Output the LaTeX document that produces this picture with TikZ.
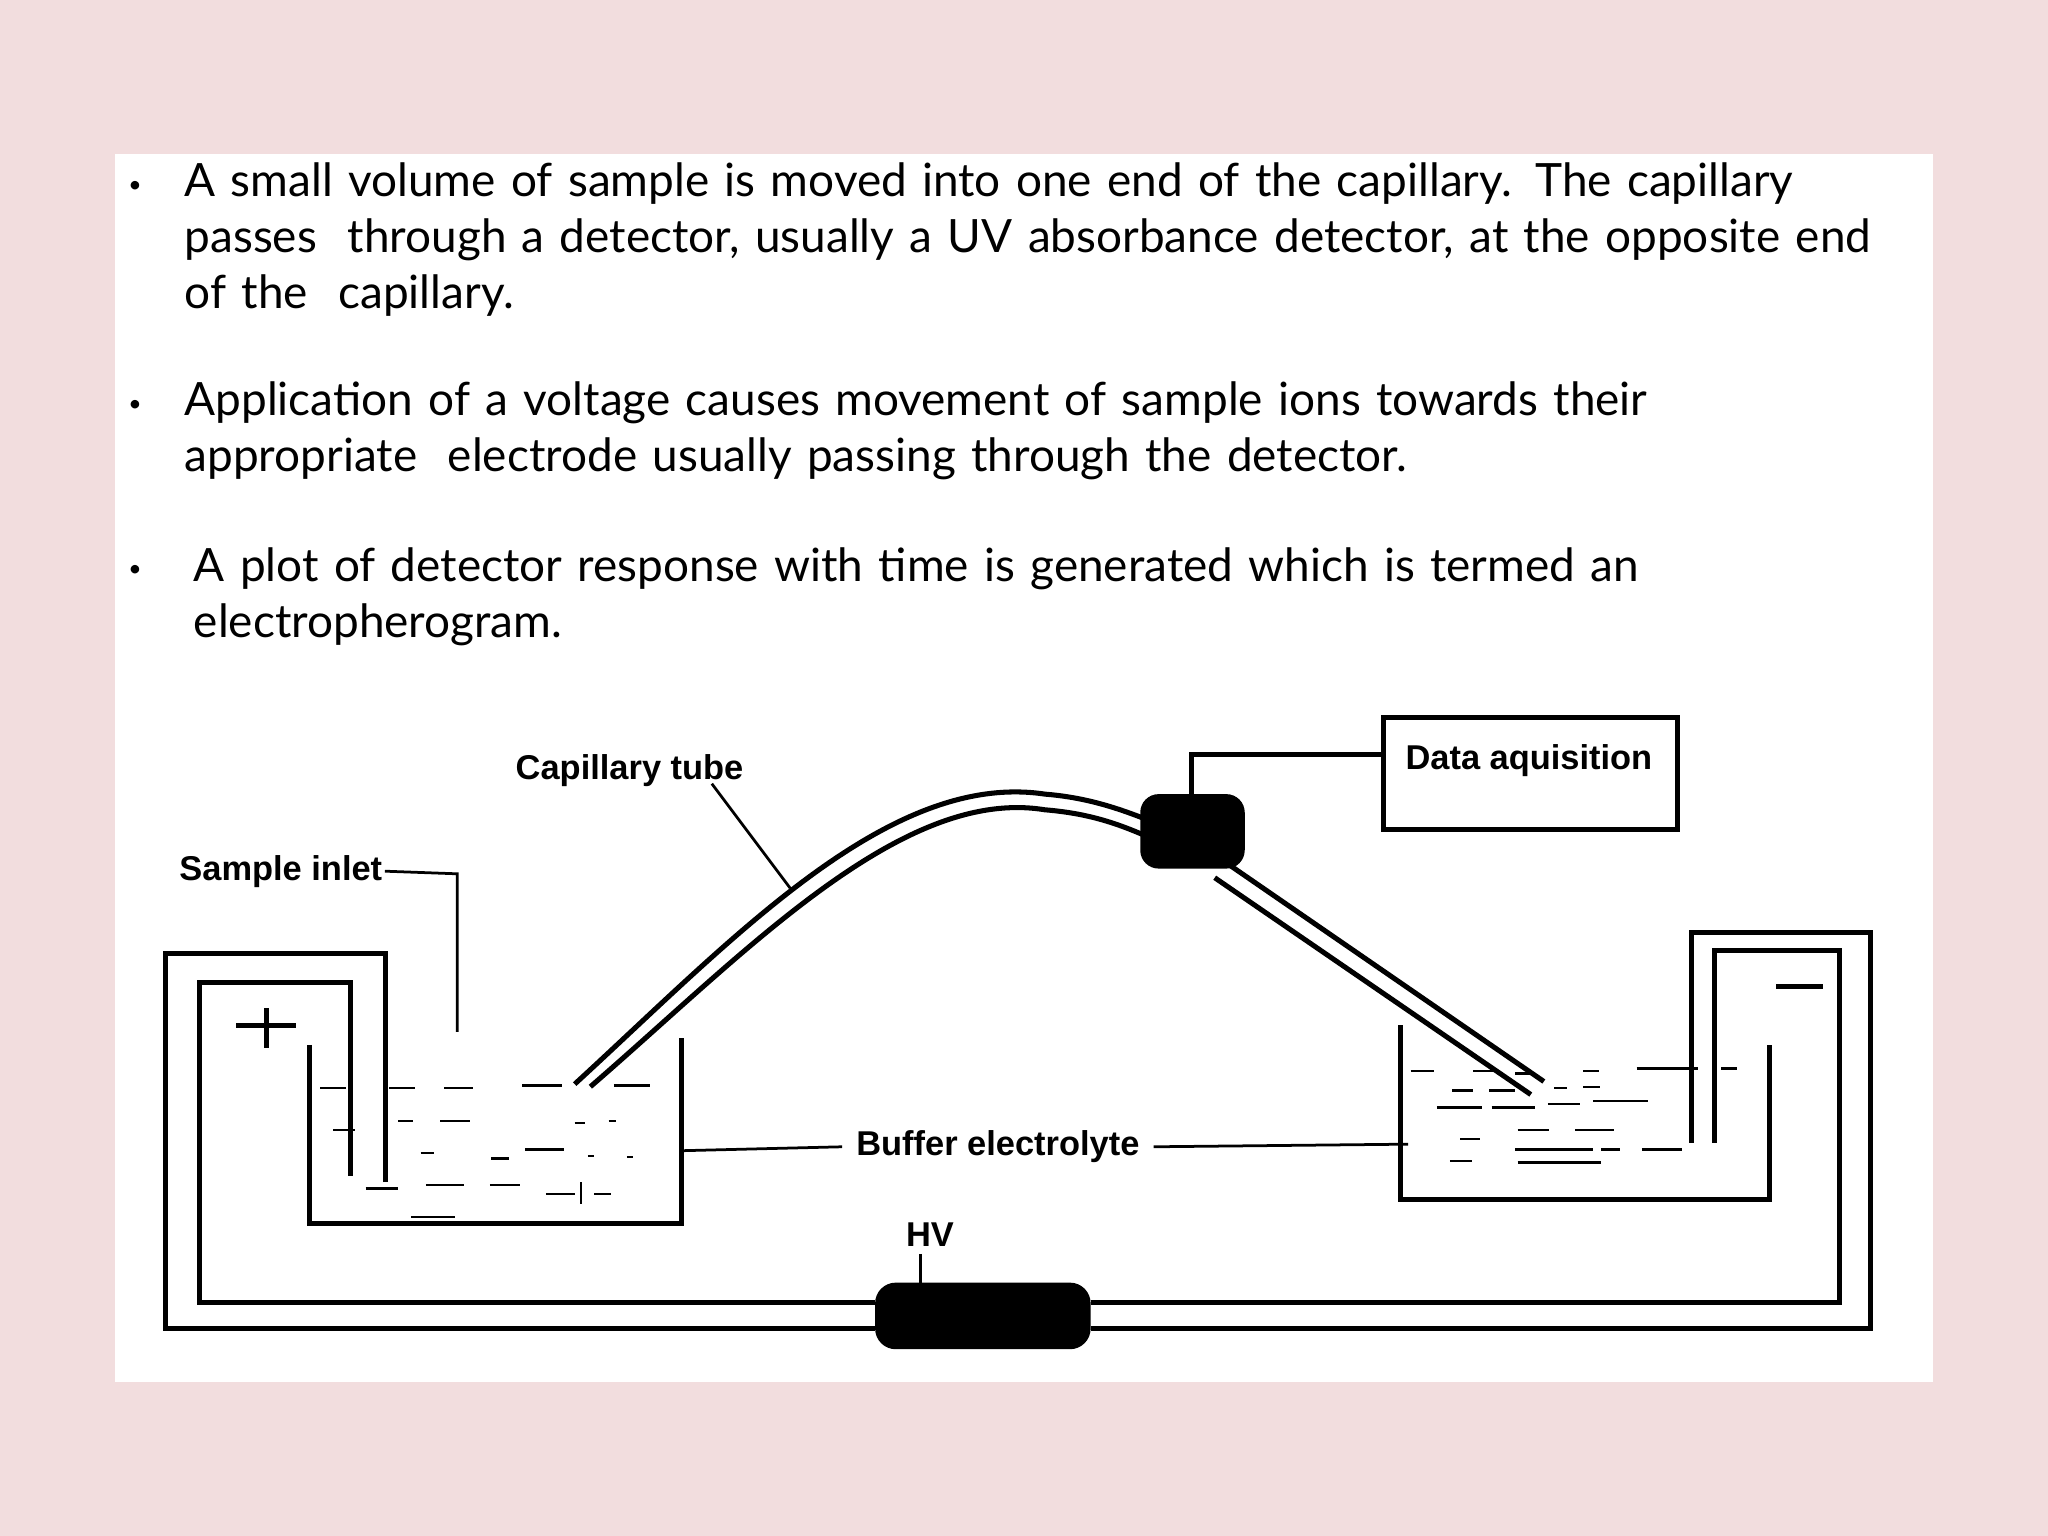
\documentclass[tikz,border=0pt]{standalone}
\usepackage{fontspec}
\setmainfont{Lato}
\newfontfamily\labfont{Liberation Sans}
\begin{document}
\begin{tikzpicture}[x=0.02cm,y=-0.02cm,
  wire/.style={line width=2.2pt},
  thin/.style={line width=1.2pt},
  lab/.style={font=\labfont\bfseries\fontsize{15}{17}\selectfont,inner sep=1pt},
  body/.style={font=\fontsize{20}{24.5}\selectfont,align=left,anchor=north west,inner sep=0pt,text width=28cm},
  liq/.style={line width=1pt}]
\fill[fill={rgb,255:red,242;green,221;blue,222}] (0,0) rectangle (1568,1176);
\useasboundingbox (0,0) rectangle (1568,1176);
\fill[white] (88,118) rectangle (1480,1058);
% text
\node[anchor=west] (b1) at (92,143) {\fontsize{10}{12}\selectfont\textbullet};
\node[anchor=west] (b2) at (92,311) {\fontsize{10}{12}\selectfont\textbullet};
\node[anchor=west] (b3) at (92,437) {\fontsize{10}{12}\selectfont\textbullet};
\node[body] (t1) at (141,124) {A small volume of sample is moved into one end of the capillary. The capillary\\passes \ through a detector, usually a UV absorbance detector, at the opposite end\\of the \ capillary.};
\node[body] (t2) at (141,292) {Application of a voltage causes movement of sample ions towards their\\appropriate \ electrode usually passing through the detector.};
\node[body] (t3) at (148,419) {A plot of detector response with time is generated which is termed an\\electropherogram.};
% circuit outer and inner
\draw[wire] (295,905) -- (295,730) -- (127,730) -- (127,1017) -- (670,1017);
\draw[wire] (268,900) -- (268,752) -- (153,752) -- (153,997) -- (670,997);
\draw[wire] (835,1017) -- (1432,1017) -- (1432,714) -- (1295,714) -- (1295,875);
\draw[wire] (835,997) -- (1408,997) -- (1408,728) -- (1313,728) -- (1313,875);
\fill[black,rounded corners=9pt] (670,982) rectangle (835,1033);
\coordinate (hv) at (705,985);
% beakers
\draw[wire] (237,800) -- (237,937) -- (522,937) -- (522,795);
\draw[wire] (1072,785) -- (1072,918) -- (1355,918) -- (1355,800);
% signs
\draw[wire] (181,785) -- (227,785) (204,772) -- (204,802);
\draw[wire] (1360,755) -- (1396,755);
% capillary
\draw[wire] (440,830) .. controls (560,720) and (680,590) .. (800,608) .. controls (850,612) and (880,630) .. (912,640);
\draw[wire] (452,832) .. controls (570,730) and (690,602) .. (800,620) .. controls (850,624) and (875,640) .. (905,652);
\draw[wire] (938,660) -- (1182,828);
\draw[wire] (930,672) -- (1172,838);
% detector
\fill[black,rounded corners=8pt] (873,608) rectangle (953,665);
\coordinate (det) at (912,608);
\draw[wire] (det) -- (912,578) -- (1060,578);
\node[draw,line width=2.2pt,minimum width=4.5cm,minimum height=1.72cm,inner sep=0pt] (daq) at (1172,592) {};
\node[lab,anchor=north west] (daql) at (1074,568) {Data aquisition};
% labels
\node[lab] (cap) at (482,590) {Capillary tube};
\draw[thin] (545,600) -- (605,680);
\node[lab] (si) at (215,667) {Sample inlet};
\draw[thin] (si.east) -- (350,669) -- (350,790);
\node[lab,inner xsep=6pt] (be) at (764,878) {Buffer electrolyte};
\draw[thin] (522,881) -- (be.west);
\draw[thin] (be.east) -- (1078,876);
\node[lab] (hvl) at (712,945) {HV};
\draw[thin] (705,960) -- (hv);
% liquid dashes left
\foreach \a/\b/\y in {245/265/833, 298/318/833, 340/362/833, 400/430/831, 470/498/831,
  305/316/858, 337/360/858, 440/448/860, 466/472/858, 255/272/865,
  322/332/883, 376/390/887, 402/432/880, 450/455/885, 480/485/886,
  280/305/910, 326/355/907, 375/398/907, 418/440/914, 455/468/914, 315/348/932}
  \draw[liq] (\a,\y) -- (\b,\y);
\draw[liq] (445,905) -- (445,922);
% liquid dashes right
\foreach \a/\b/\y in {1080/1098/820, 1128/1148/820, 1160/1172/822, 1212/1224/820, 1253/1300/818, 1318/1330/818,
  1112/1128/835, 1140/1160/835, 1190/1200/833, 1212/1225/832,
  1100/1135/848, 1142/1175/848, 1185/1210/845, 1220/1262/843,
  1118/1133/872, 1162/1186/865, 1206/1236/865, 1160/1220/880, 1226/1240/880, 1257/1288/880,
  1110/1127/889, 1162/1226/890}
  \draw[liq] (\a,\y) -- (\b,\y);
\end{tikzpicture}
\end{document}
